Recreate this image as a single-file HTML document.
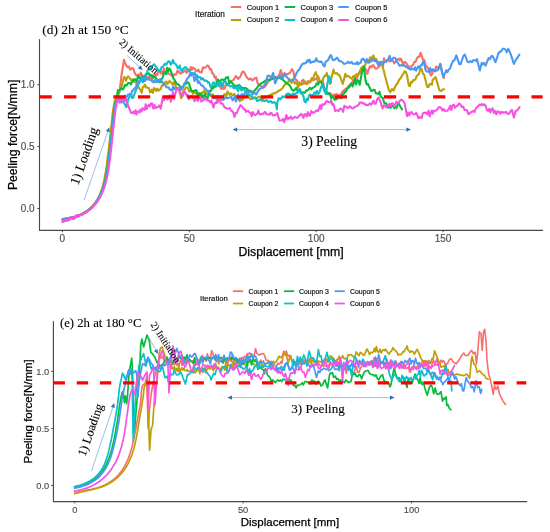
<!DOCTYPE html>
<html><head><meta charset="utf-8"><title>Peeling force</title>
<style>html,body{margin:0;padding:0;background:#fff;}svg{display:block;}</style>
</head><body>
<svg width="550" height="532" viewBox="0 0 550 532">
<rect width="550" height="532" fill="#fff"/>
<text x="42.3" y="33.7" font-family="'Liberation Serif', 'Times New Roman', serif" font-size="13.4" fill="#000" stroke="#000" stroke-width="0.1">(d) 2h at 150 °C</text>
<text x="195.1" y="16.9" font-family="'Liberation Sans', Arial, sans-serif" font-size="8.25" fill="#111" stroke="#111" stroke-width="0.18">Iteration</text>
<line x1="230.8" y1="7.0" x2="241.3" y2="7.0" stroke="#F86E69" stroke-width="2.0"/>
<text x="246.7" y="10.0" font-family="'Liberation Sans', Arial, sans-serif" font-size="7.50" fill="#111" stroke="#111" stroke-width="0.18">Coupon 1</text>
<line x1="230.8" y1="20.0" x2="241.3" y2="20.0" stroke="#BDA008" stroke-width="2.0"/>
<text x="246.7" y="22.4" font-family="'Liberation Sans', Arial, sans-serif" font-size="7.50" fill="#111" stroke="#111" stroke-width="0.18">Coupon 2</text>
<line x1="284.7" y1="7.0" x2="295.2" y2="7.0" stroke="#06BC3A" stroke-width="2.0"/>
<text x="300.6" y="10.0" font-family="'Liberation Sans', Arial, sans-serif" font-size="7.50" fill="#111" stroke="#111" stroke-width="0.18">Coupon 3</text>
<line x1="284.7" y1="20.0" x2="295.2" y2="20.0" stroke="#0CBFC8" stroke-width="2.0"/>
<text x="300.6" y="22.4" font-family="'Liberation Sans', Arial, sans-serif" font-size="7.50" fill="#111" stroke="#111" stroke-width="0.18">Coupon 4</text>
<line x1="338.3" y1="7.0" x2="348.8" y2="7.0" stroke="#4A98F6" stroke-width="2.0"/>
<text x="355.0" y="10.0" font-family="'Liberation Sans', Arial, sans-serif" font-size="7.50" fill="#111" stroke="#111" stroke-width="0.18">Coupon 5</text>
<line x1="338.3" y1="20.0" x2="348.8" y2="20.0" stroke="#F752E2" stroke-width="2.0"/>
<text x="355.0" y="22.4" font-family="'Liberation Sans', Arial, sans-serif" font-size="7.50" fill="#111" stroke="#111" stroke-width="0.18">Coupon 6</text>
<polyline points="39.5,39.5 39.5,230.3 542.6,230.3" fill="none" stroke="#484848" stroke-width="1.15" stroke-linejoin="round" stroke-linecap="round"/>
<line x1="37.3" y1="208.5" x2="39.5" y2="208.5" stroke="#484848" stroke-width="1"/>
<text x="34.6" y="212.1" text-anchor="end" font-family="'Liberation Sans', Arial, sans-serif" font-size="10.0" fill="#4D4D4D" stroke="#4D4D4D" stroke-width="0.15">0.0</text>
<line x1="37.3" y1="146.6" x2="39.5" y2="146.6" stroke="#484848" stroke-width="1"/>
<text x="34.6" y="150.2" text-anchor="end" font-family="'Liberation Sans', Arial, sans-serif" font-size="10.0" fill="#4D4D4D" stroke="#4D4D4D" stroke-width="0.15">0.5</text>
<line x1="37.3" y1="84.7" x2="39.5" y2="84.7" stroke="#484848" stroke-width="1"/>
<text x="34.6" y="88.3" text-anchor="end" font-family="'Liberation Sans', Arial, sans-serif" font-size="10.0" fill="#4D4D4D" stroke="#4D4D4D" stroke-width="0.15">1.0</text>
<line x1="62.4" y1="230.3" x2="62.4" y2="232.3" stroke="#484848" stroke-width="1"/>
<text x="62.4" y="242.0" text-anchor="middle" font-family="'Liberation Sans', Arial, sans-serif" font-size="10.0" fill="#4D4D4D" stroke="#4D4D4D" stroke-width="0.15">0</text>
<line x1="189.3" y1="230.3" x2="189.3" y2="232.3" stroke="#484848" stroke-width="1"/>
<text x="189.3" y="242.0" text-anchor="middle" font-family="'Liberation Sans', Arial, sans-serif" font-size="10.0" fill="#4D4D4D" stroke="#4D4D4D" stroke-width="0.15">50</text>
<line x1="316.2" y1="230.3" x2="316.2" y2="232.3" stroke="#484848" stroke-width="1"/>
<text x="316.2" y="242.0" text-anchor="middle" font-family="'Liberation Sans', Arial, sans-serif" font-size="10.0" fill="#4D4D4D" stroke="#4D4D4D" stroke-width="0.15">100</text>
<line x1="443.1" y1="230.3" x2="443.1" y2="232.3" stroke="#484848" stroke-width="1"/>
<text x="443.1" y="242.0" text-anchor="middle" font-family="'Liberation Sans', Arial, sans-serif" font-size="10.0" fill="#4D4D4D" stroke="#4D4D4D" stroke-width="0.15">150</text>
<text x="291" y="255.7" text-anchor="middle" font-family="'Liberation Sans', Arial, sans-serif" font-size="12.3" fill="#000" stroke="#000" stroke-width="0.25">Displacement [mm]</text>
<text transform="translate(16.9,134.9) rotate(-90)" text-anchor="middle" font-family="'Liberation Sans', Arial, sans-serif" font-size="12.2" fill="#000" stroke="#000" stroke-width="0.25">Peeling force[N/mm]</text>
<polyline points="62.7,219.1 64.1,218.9 65.6,218.7 67.2,218.5 68.7,218.3 70.3,217.9 72.0,217.6 73.6,217.2 75.2,216.7 76.8,216.2 78.4,215.6 79.9,215.0 81.4,214.3 82.9,213.5 84.3,212.7 85.7,211.9 87.1,211.0 88.4,210.0 89.6,209.0 90.8,207.9 92.0,206.8 93.0,205.7 94.1,204.5 95.1,203.2 96.0,202.0 96.9,200.6 97.7,199.3 98.5,197.9 99.2,196.5 99.9,195.1 100.6,193.6 101.2,192.1 101.8,190.6 102.3,189.1 102.8,187.5 103.3,185.9 103.7,184.4 104.1,182.8 104.5,181.2 104.8,179.5 105.2,177.9 105.5,176.3 105.8,174.7 106.1,173.1 106.3,171.4 106.6,169.8 106.8,168.2 107.1,166.5 107.3,164.9 107.5,163.3 107.7,161.7 107.9,160.1 108.1,158.5 108.3,156.9 108.5,155.3 108.7,153.6 108.9,152.1 109.1,150.5 109.3,148.9 109.5,147.3 109.7,145.7 109.9,144.1 110.0,142.5 110.2,140.9 110.4,139.3 110.6,137.7 110.8,136.1 110.9,134.5 111.1,132.9 111.3,131.3 111.5,129.7 111.6,128.1 111.8,126.4 112.0,124.8 112.1,123.2 112.3,121.5 112.5,119.9 112.7,118.2 112.8,116.6 113.0,115.0 113.2,113.3 113.4,111.7 113.7,110.0 113.9,108.4 114.2,106.8 114.4,105.2 114.8,103.7 115.1,102.1 115.5,100.6 116.0,99.1 119.5,92.0 121.5,75.0 124.0,59.8 125.0,63.0 126.0,65.1 127.0,66.5 128.0,67.4 129.0,66.4 130.0,69.5 131.0,69.4 132.0,68.0 133.3,68.5 134.6,72.6 136.4,75.7 138.2,74.5 139.5,75.8 140.7,72.6 142.0,74.8 143.0,77.6 144.0,75.8 145.0,79.6 146.0,77.0 147.0,76.9 148.0,78.8 149.0,76.8 150.0,78.0 151.0,76.9 152.0,79.2 153.0,75.5 154.0,76.7 155.0,75.0 156.1,74.4 157.3,75.0 158.4,70.2 159.5,71.2 160.7,73.3 161.8,71.3 162.9,74.6 163.9,68.2 164.9,73.1 166.0,73.0 167.2,73.6 168.4,73.2 169.5,74.4 170.7,74.5 171.9,75.5 173.0,76.8 174.2,74.3 175.3,74.6 176.4,74.0 177.6,70.4 178.7,71.3 179.8,73.3 180.9,73.6 182.0,72.1 183.1,72.1 184.3,71.2 185.4,70.0 186.5,72.9 187.7,71.5 188.8,71.3 189.8,70.3 190.8,67.0 191.9,69.8 192.9,67.5 193.9,68.7 195.0,68.9 196.2,71.0 197.3,71.3 198.4,69.7 199.5,72.1 200.6,72.1 201.7,72.4 202.9,67.4 204.0,67.9 205.1,67.6 206.3,66.8 207.4,65.4 208.7,66.2 210.0,69.6 211.1,69.2 212.3,73.4 213.4,73.8 214.5,77.4 215.7,76.5 216.8,82.3 217.9,84.0 219.0,83.4 220.1,85.6 221.2,88.9 222.4,84.5 223.5,89.0 224.6,88.7 225.8,84.1 226.9,85.6 228.0,83.9 229.2,83.5 230.3,82.3 231.4,80.7 232.6,80.5 233.7,79.7 234.8,77.7 235.9,76.0 237.0,77.2 238.1,78.9 239.3,77.8 240.4,76.3 241.7,73.1 243.0,71.3 244.0,72.1 245.0,73.8 246.9,77.6 248.8,79.4 250.6,78.5 252.5,80.4 254.4,78.5 256.3,77.6 257.7,83.2 259.1,85.1 261.0,86.0 262.9,87.9 264.7,87.0 266.6,84.1 268.5,81.3 270.4,78.5 272.3,76.6 274.1,76.6 276.0,77.6 277.9,76.6 279.8,73.8 280.7,70.0 282.1,74.7 283.3,75.8 284.5,72.9 286.4,74.7 288.2,73.8 290.1,72.9 292.0,69.1 293.4,71.0 294.6,78.9 295.9,79.6 297.1,80.6 298.8,85.6 299.9,84.2 301.1,83.3 302.2,80.6 303.3,79.8 304.5,82.2 305.6,84.0 306.7,83.7 307.8,81.0 308.9,82.3 310.0,82.1 311.2,80.5 312.3,79.7 313.4,80.2 314.6,79.5 315.7,78.9 316.8,77.7 318.0,81.7 319.1,82.3 320.2,81.7 321.4,82.1 322.5,80.0 325.0,90.7 326.2,92.6 327.3,92.0 328.5,94.0 329.6,94.5 330.7,93.3 331.8,95.8 332.9,95.7 334.1,94.5 335.2,95.8 336.3,93.9 337.5,95.2 338.6,94.9 339.7,95.4 340.9,94.8 342.0,92.4 343.1,90.9 344.3,90.0 345.4,89.0 346.5,88.3 347.6,87.6 348.7,85.6 349.8,84.8 351.0,83.7 352.1,82.3 353.2,80.6 354.4,79.7 355.5,78.9 356.6,80.4 357.8,75.6 358.9,73.8 360.0,71.2 361.2,73.1 362.3,70.4 363.4,67.9 364.5,70.2 365.6,68.7 367.3,73.8 369.0,68.7 370.1,66.3 371.3,67.3 372.4,65.4 373.5,65.3 374.7,67.6 375.8,68.7 377.1,68.4 378.4,67.0 379.5,66.4 380.7,61.8 381.8,63.7 382.9,66.0 384.0,58.2 385.1,62.0 386.2,60.9 387.4,60.2 388.5,60.3 389.6,61.5 390.8,60.2 391.9,61.1 393.0,60.8 394.2,63.4 395.3,62.0 396.4,60.2 397.6,59.9 398.7,58.6 399.8,60.5 400.9,58.7 402.0,61.1 403.1,65.1 404.3,62.0 405.4,62.0 406.5,63.5 407.7,65.4 408.8,67.0 409.9,66.6 411.1,66.9 412.2,65.4 413.3,64.4 414.5,61.8 415.6,62.0 416.9,58.4 418.1,56.9 419.4,56.8 420.6,52.7 423.2,60.3 424.4,60.0 425.7,65.4 426.9,66.9 428.2,68.7 430.8,75.5 432.1,74.3 433.3,69.6 435.0,71.3 436.2,66.6 437.5,67.6 438.9,67.6 440.3,63.9 442.2,73.3 444.1,78.0" fill="none" stroke="#F86E69" stroke-width="2.1" stroke-linejoin="round" stroke-linecap="round"/>
<polyline points="62.7,219.0 64.1,218.8 65.6,218.7 67.1,218.4 68.7,218.2 70.3,217.9 71.9,217.5 73.6,217.1 75.2,216.6 76.8,216.1 78.3,215.5 79.9,214.9 81.4,214.2 82.9,213.4 84.3,212.6 85.7,211.8 87.0,210.9 88.3,209.9 89.5,208.9 90.7,207.8 91.8,206.7 92.9,205.6 93.9,204.4 94.9,203.1 95.8,201.8 96.7,200.5 97.5,199.2 98.3,197.8 99.0,196.4 99.7,194.9 100.3,193.5 100.9,192.0 101.4,190.5 102.0,188.9 102.4,187.4 102.9,185.8 103.3,184.2 103.7,182.6 104.1,181.0 104.4,179.4 104.7,177.8 105.0,176.2 105.3,174.5 105.6,172.9 105.9,171.3 106.1,169.7 106.3,168.0 106.6,166.4 106.8,164.8 107.0,163.2 107.2,161.6 107.4,159.9 107.6,158.3 107.8,156.7 108.0,155.1 108.2,153.5 108.4,151.9 108.6,150.4 108.8,148.8 109.0,147.2 109.2,145.6 109.4,144.0 109.5,142.4 109.7,140.8 109.9,139.2 110.1,137.6 110.3,136.1 110.5,134.5 110.6,132.8 110.8,131.2 111.0,129.6 111.2,128.0 111.3,126.4 111.5,124.8 111.7,123.1 111.8,121.5 112.0,119.9 112.2,118.2 112.3,116.6 112.5,114.9 112.7,113.3 112.9,111.6 113.1,110.0 113.4,108.4 113.6,106.8 113.9,105.2 114.3,103.6 114.6,102.1 115.0,100.6 115.5,99.1 119.0,92.0 120.0,89.7 121.0,89.0 124.0,77.0 125.0,77.2 126.0,80.8 127.0,78.0 128.0,76.3 129.0,77.2 130.0,78.6 131.0,80.0 132.0,79.4 133.0,80.0 134.0,81.8 135.0,80.6 136.0,82.3 137.0,86.6 138.0,86.0 139.3,88.2 140.6,90.6 141.7,92.8 142.8,87.0 143.9,86.7 145.0,84.6 146.0,87.5 147.0,87.4 148.0,88.0 149.0,88.1 150.0,92.4 151.0,92.0 152.0,89.7 153.0,92.9 154.0,88.0 155.0,89.0 156.1,90.8 157.3,88.6 158.4,90.7 159.5,90.1 160.7,88.8 161.8,85.6 162.9,85.8 163.9,82.6 165.0,83.1 166.2,81.5 167.3,84.1 168.5,82.3 169.6,81.0 170.8,82.4 171.9,83.1 173.0,84.9 174.2,82.0 175.3,84.8 176.4,88.3 177.6,88.3 178.7,89.0 181.2,98.3 183.7,90.7 184.8,89.3 186.0,87.3 187.1,87.3 188.2,88.6 189.4,91.7 190.5,90.7 191.6,90.7 192.8,93.9 193.9,92.4 195.0,92.2 196.2,94.0 197.3,94.0 198.4,93.8 199.5,93.6 200.6,93.2 201.7,92.8 202.9,92.6 204.0,90.7 205.1,93.1 206.3,92.2 207.4,94.0 208.5,93.6 209.7,94.7 210.8,95.8 211.9,95.1 212.9,94.2 213.9,98.1 215.0,97.5 216.0,96.2 217.0,101.0 218.1,95.9 219.1,97.0 220.1,98.3 221.1,98.5 222.1,96.2 223.2,97.1 224.2,94.5 225.2,94.0 226.3,96.6 227.5,91.4 228.6,93.2 229.7,95.0 230.9,93.3 232.0,94.9 233.1,95.2 234.3,93.8 235.4,96.6 236.5,99.3 237.6,95.3 238.7,99.2 239.8,101.2 241.0,99.7 242.1,100.0 243.6,98.3 245.0,95.4 246.9,96.4 248.8,97.3 250.6,99.2 252.5,98.2 254.4,97.3 256.3,98.2 258.2,97.3 260.0,96.4 261.9,101.1 263.8,98.2 265.7,97.3 267.6,96.4 269.4,95.4 271.3,94.5 273.2,93.5 275.1,93.1 277.0,92.1 278.8,90.7 280.7,89.8 282.6,87.9 284.5,85.1 286.4,83.2 288.2,82.3 289.3,79.0 290.4,80.6 291.5,83.0 292.6,79.3 293.7,81.4 294.8,83.6 296.0,82.1 297.1,84.0 298.2,87.5 299.4,82.5 300.5,84.8 301.6,84.8 302.8,83.9 303.9,83.1 305.0,81.3 306.2,83.9 307.3,84.0 308.4,82.5 309.5,82.3 310.6,80.6 311.7,78.2 312.9,80.0 314.0,75.5 315.7,72.1 316.9,75.8 318.2,76.3 319.5,80.4 320.8,82.3 322.5,80.6 323.4,78.0 324.5,75.9 325.7,75.8 326.8,73.0 328.5,80.6 330.1,84.0 333.5,69.6 334.6,73.3 335.8,73.4 336.9,73.0 338.0,74.8 339.2,74.9 340.3,77.2 342.8,84.0 345.4,73.8 346.5,76.7 347.6,75.8 348.7,76.3 349.8,77.2 351.0,77.9 352.1,78.9 353.2,76.2 354.4,75.8 355.5,76.3 356.6,74.0 357.8,75.1 358.9,73.0 360.0,71.0 361.2,68.0 362.3,67.0 363.4,66.0 364.5,66.8 365.6,63.7 366.7,60.1 367.9,61.9 369.0,60.3 370.1,57.3 371.3,61.6 372.4,56.9 373.5,55.5 374.7,60.9 375.8,58.6 377.1,60.7 378.4,62.8 379.5,62.2 380.7,64.7 381.8,63.7 383.5,69.6 385.1,76.3 386.8,82.3 388.5,89.0 390.2,92.4 391.9,89.0 393.6,90.7 395.3,86.5 396.4,84.4 397.6,83.4 398.7,80.6 399.8,78.9 400.9,78.1 402.0,75.5 403.3,73.9 404.6,71.3 405.9,72.2 407.1,75.5 408.8,85.6 409.9,86.1 411.1,81.7 412.2,82.3 413.3,80.0 414.5,80.0 415.6,78.9 416.7,76.0 417.8,75.1 418.9,73.8 420.2,69.9 421.5,68.7 422.8,73.4 424.0,74.6 427.4,87.3 428.5,86.8 429.7,84.0 430.8,84.0 431.8,84.7 432.8,79.6 433.8,78.9 435.6,77.0 437.5,83.6 439.4,90.2 441.3,91.1 442.7,89.5 444.1,89.2" fill="none" stroke="#BDA008" stroke-width="2.1" stroke-linejoin="round" stroke-linecap="round"/>
<polyline points="62.7,219.2 64.1,219.0 65.6,218.8 67.2,218.6 68.8,218.3 70.4,218.0 72.0,217.7 73.6,217.3 75.2,216.8 76.8,216.3 78.4,215.7 79.9,215.1 81.5,214.4 82.9,213.6 84.4,212.8 85.8,212.0 87.1,211.1 88.4,210.1 89.7,209.1 90.9,208.0 92.1,206.9 93.2,205.8 94.2,204.6 95.2,203.4 96.2,202.1 97.1,200.8 97.9,199.4 98.7,198.0 99.5,196.6 100.2,195.2 100.9,193.7 101.5,192.2 102.1,190.7 102.6,189.2 103.1,187.6 103.6,186.1 104.1,184.5 104.5,182.9 104.9,181.3 105.3,179.7 105.6,178.1 105.9,176.4 106.2,174.8 106.5,173.2 106.8,171.6 107.1,169.9 107.3,168.3 107.6,166.7 107.8,165.1 108.0,163.4 108.2,161.8 108.4,160.2 108.6,158.6 108.8,157.0 109.0,155.4 109.2,153.8 109.4,152.2 109.6,150.6 109.8,149.0 110.0,147.4 110.2,145.8 110.3,144.2 110.5,142.6 110.7,141.0 110.9,139.4 111.1,137.8 111.2,136.2 111.4,134.6 111.6,133.0 111.8,131.3 111.9,129.7 112.1,128.1 112.3,126.5 112.5,124.8 112.6,123.2 112.8,121.6 113.0,119.9 113.2,118.3 113.3,116.6 113.5,115.0 113.7,113.3 113.9,111.7 114.2,110.1 114.4,108.4 114.7,106.8 115.0,105.2 115.3,103.7 115.6,102.1 116.0,100.6 116.5,99.1 118.0,90.0 119.0,90.7 120.0,90.1 121.0,88.5 122.0,88.8 123.0,89.5 124.0,87.5 125.0,84.9 126.0,85.7 127.0,85.0 128.0,83.1 129.0,83.0 130.0,83.0 131.0,84.3 132.0,81.4 133.0,81.0 134.0,79.4 135.0,79.3 136.0,79.5 137.0,80.9 138.0,76.2 139.0,78.0 140.0,77.7 141.0,77.6 142.0,76.5 143.0,77.9 144.0,77.4 145.0,76.0 146.0,74.1 147.0,73.4 148.0,74.0 149.0,73.3 150.0,75.7 151.0,75.0 152.2,75.4 153.3,77.7 154.4,77.0 155.6,77.0 156.8,80.8 158.0,82.0 159.0,80.2 160.0,82.3 161.0,79.5 162.0,78.5 163.0,76.7 164.0,72.9 165.0,72.1 166.0,74.0 167.1,67.8 168.1,71.8 169.2,68.4 170.2,69.6 171.9,73.8 173.2,78.0 174.4,79.7 175.7,82.0 177.0,84.0 178.2,84.3 179.5,85.6 180.8,87.2 182.0,87.3 183.1,87.7 184.3,83.5 185.4,84.0 186.5,83.3 187.7,82.2 188.8,83.1 191.3,90.7 192.6,91.1 193.9,91.5 195.0,90.4 196.2,90.1 197.3,92.4 198.4,95.8 199.5,93.3 200.6,97.5 201.7,94.6 202.9,97.9 204.0,95.8 205.1,94.1 206.3,99.1 207.4,98.3 210.0,90.7 211.1,90.7 212.3,87.2 213.4,88.2 214.5,85.5 215.7,86.7 216.8,83.1 217.9,79.3 219.0,81.4 220.1,81.4 221.2,79.8 222.4,79.5 223.5,79.7 224.6,81.1 225.8,77.5 226.9,78.0 228.0,76.9 229.2,83.1 230.3,81.4 231.4,82.2 232.6,83.5 233.7,84.8 234.8,87.6 235.9,85.5 237.0,85.6 238.1,86.8 239.3,84.9 240.4,86.5 241.5,87.4 242.7,89.4 243.8,87.9 244.8,88.3 245.9,88.1 246.9,88.8 248.8,90.7 250.6,90.7 252.5,92.6 254.4,90.7 256.3,88.8 258.2,86.0 260.0,84.1 261.9,83.2 263.8,81.8 265.7,80.4 267.6,79.4 269.4,80.4 271.3,79.4 273.2,78.5 275.1,77.6 277.0,78.0 278.8,77.6 280.7,78.5 282.6,79.4 284.5,81.3 286.4,83.2 288.2,84.1 290.1,86.0 292.0,89.8 293.9,90.7 295.4,89.0 296.5,87.8 297.7,91.5 298.8,90.7 299.9,91.0 301.1,93.4 302.2,92.4 303.3,92.5 304.5,92.9 305.6,91.5 306.7,90.3 307.8,90.5 308.9,89.0 310.0,87.8 311.2,89.3 312.3,88.2 313.4,87.6 314.6,86.9 315.7,85.6 316.8,83.3 318.0,84.5 319.1,82.3 320.2,82.2 321.4,82.3 322.5,84.0 324.0,88.0 325.4,90.7 326.8,92.4 327.9,93.9 329.0,93.1 330.1,94.9 331.2,98.4 332.4,96.1 333.5,97.5 334.6,99.8 335.8,98.9 336.9,99.2 338.0,96.3 339.2,97.0 340.3,98.3 341.4,98.1 342.6,94.3 343.7,94.0 344.8,92.0 345.9,91.5 347.0,89.0 348.1,88.0 349.3,87.0 350.4,85.6 351.5,83.3 352.7,86.4 353.8,83.1 354.9,78.1 356.1,84.5 357.2,80.6 358.4,80.7 359.7,84.8 362.3,70.4 363.9,67.0 365.6,80.6 366.7,84.5 367.9,83.8 369.0,86.5 370.1,88.6 371.3,91.0 372.4,90.7 373.5,89.9 374.7,90.0 375.8,93.2 377.1,93.6 378.4,94.0 379.5,91.8 380.7,96.7 381.8,97.5 382.9,98.1 384.0,102.6 385.1,103.4 386.2,103.4 387.4,107.2 388.5,107.6 389.6,104.4 390.8,107.8 391.9,105.9 393.0,105.3 394.2,108.2 395.3,106.8 396.4,108.2 397.6,104.5 398.7,103.4 400.4,106.8 402.0,109.3" fill="none" stroke="#06BC3A" stroke-width="2.1" stroke-linejoin="round" stroke-linecap="round"/>
<polyline points="62.7,219.3 64.1,219.1 65.6,218.9 67.2,218.7 68.8,218.4 70.4,218.1 72.0,217.8 73.6,217.3 75.2,216.9 76.8,216.4 78.4,215.8 80.0,215.1 81.5,214.5 83.0,213.7 84.4,212.9 85.8,212.1 87.2,211.2 88.5,210.2 89.8,209.2 91.0,208.1 92.2,207.0 93.3,205.9 94.3,204.7 95.3,203.5 96.3,202.2 97.2,200.9 98.1,199.5 98.9,198.1 99.7,196.7 100.4,195.3 101.1,193.8 101.7,192.3 102.3,190.8 102.9,189.3 103.4,187.7 103.9,186.2 104.4,184.6 104.8,183.0 105.2,181.4 105.6,179.8 106.0,178.2 106.3,176.6 106.6,174.9 106.9,173.3 107.2,171.7 107.5,170.0 107.7,168.4 108.0,166.8 108.2,165.2 108.4,163.5 108.6,161.9 108.8,160.3 109.0,158.7 109.2,157.1 109.4,155.5 109.6,153.8 109.8,152.2 110.0,150.6 110.2,149.0 110.4,147.4 110.6,145.8 110.7,144.2 110.9,142.6 111.1,141.0 111.3,139.4 111.5,137.8 111.6,136.2 111.8,134.6 112.0,133.0 112.1,131.4 112.3,129.8 112.5,128.1 112.7,126.5 112.8,124.9 113.0,123.2 113.2,121.6 113.4,120.0 113.5,118.3 113.7,116.7 113.9,115.0 114.1,113.4 114.3,111.7 114.6,110.1 114.8,108.5 115.1,106.9 115.4,105.3 115.7,103.7 116.0,102.1 116.4,100.6 116.9,99.1 121.0,99.6 122.0,102.3 123.0,101.1 124.0,103.0 125.2,104.9 126.3,107.0 128.0,100.0 130.0,95.0 131.0,93.8 132.0,98.0 133.0,98.0 136.0,90.0 137.0,87.8 138.0,84.7 139.0,83.0 140.0,81.8 141.0,78.9 142.0,80.0 143.0,82.4 144.0,78.4 145.0,78.6 148.0,69.5 149.0,68.4 150.0,68.8 151.0,67.0 152.0,66.2 153.0,65.3 154.0,64.3 155.0,65.2 156.0,67.0 157.0,68.0 158.0,69.6 159.0,71.0 160.0,71.0 161.8,67.0 162.9,66.7 163.9,65.0 165.0,63.7 166.2,64.8 167.3,62.7 168.4,61.3 169.6,61.8 170.8,64.7 171.9,62.8 173.0,60.0 174.2,63.5 175.3,63.7 176.4,65.1 177.6,67.9 178.7,67.9 179.8,65.5 180.9,69.9 182.0,71.3 183.1,68.8 184.3,67.8 185.4,67.0 186.5,68.1 187.7,69.8 188.8,69.6 189.9,71.2 191.1,75.7 192.2,73.0 193.3,74.6 194.5,72.4 195.6,75.5 196.7,74.8 197.9,76.7 199.0,77.2 200.1,77.0 201.2,79.5 202.3,78.0 203.4,79.1 204.6,80.8 205.7,80.6 206.8,80.7 207.9,82.6 209.0,82.3 210.8,87.3 212.1,85.0 213.4,82.3 214.5,83.0 215.7,85.5 216.8,85.6 217.9,82.4 219.0,86.3 220.1,83.1 221.2,82.8 222.4,86.7 223.5,82.3 224.6,81.1 225.8,81.9 226.9,84.0 228.0,84.5 229.2,85.5 230.3,86.5 231.4,86.0 232.6,86.3 233.7,88.2 234.8,88.4 235.9,86.7 237.0,89.0 238.1,91.1 239.3,85.3 240.4,88.2 241.5,90.5 242.7,89.3 243.8,89.0 245.0,90.7 246.3,92.3 247.5,95.0 248.8,94.5 250.2,95.3 251.6,96.4 253.0,98.6 254.4,98.2 255.8,97.9 257.2,101.1 259.1,100.1 261.0,99.2 262.9,100.1 264.7,101.1 266.6,100.1 268.5,102.0 270.4,101.1 272.3,102.9 274.1,102.0 276.0,103.9 276.8,109.3 277.4,102.0 278.8,98.2 280.7,99.2 282.6,96.4 284.5,97.3 286.4,94.5 288.2,93.5 290.1,94.5 292.0,94.9 293.1,93.5 294.3,94.0 295.4,94.0 296.5,93.0 297.7,92.5 298.8,89.9 299.9,89.0 301.1,92.6 302.2,94.0 303.3,95.7 304.5,101.2 305.6,102.5 306.7,98.8 307.8,100.2 308.9,95.8 310.0,94.4 311.2,95.3 312.3,95.8 313.4,94.3 314.6,92.4 315.7,94.0 316.8,90.8 318.0,93.8 319.1,93.2 320.5,89.0 322.5,84.0 324.2,90.7 325.9,94.0 327.6,82.3 329.3,76.3 331.0,82.3" fill="none" stroke="#0CBFC8" stroke-width="2.1" stroke-linejoin="round" stroke-linecap="round"/>
<polyline points="62.7,219.4 64.1,219.2 65.6,219.0 67.2,218.8 68.8,218.5 70.4,218.2 72.0,217.8 73.6,217.4 75.2,217.0 76.8,216.4 78.4,215.9 80.0,215.2 81.5,214.5 83.0,213.8 84.5,213.0 85.9,212.2 87.2,211.3 88.5,210.3 89.8,209.3 91.0,208.2 92.2,207.1 93.3,206.0 94.4,204.8 95.4,203.6 96.4,202.3 97.3,201.0 98.2,199.6 99.0,198.2 99.8,196.8 100.6,195.4 101.3,193.9 101.9,192.4 102.5,190.9 103.1,189.4 103.6,187.8 104.1,186.3 104.6,184.7 105.1,183.1 105.5,181.5 105.9,179.9 106.2,178.3 106.6,176.6 106.9,175.0 107.2,173.4 107.5,171.8 107.8,170.1 108.0,168.5 108.3,166.9 108.5,165.2 108.7,163.6 108.9,162.0 109.1,160.4 109.4,158.8 109.6,157.1 109.7,155.5 109.9,153.9 110.1,152.3 110.3,150.7 110.5,149.1 110.7,147.5 110.9,145.9 111.0,144.3 111.2,142.7 111.4,141.1 111.6,139.5 111.7,137.9 111.9,136.3 112.1,134.7 112.3,133.0 112.4,131.4 112.6,129.8 112.8,128.2 113.0,126.5 113.1,124.9 113.3,123.3 113.5,121.6 113.7,120.0 113.8,118.3 114.0,116.7 114.2,115.0 114.4,113.4 114.7,111.7 114.9,110.1 115.1,108.5 115.4,106.9 115.7,105.3 116.0,103.7 116.3,102.1 116.7,100.6 117.2,99.1 123.0,98.0 124.0,100.4 125.0,95.5 126.0,97.6 127.0,96.6 128.0,94.5 129.0,94.3 130.0,94.0 131.0,95.0 132.0,91.0 133.0,90.6 134.2,88.6 135.3,87.9 136.4,86.4 137.6,82.3 138.8,81.9 140.0,80.0 141.2,80.6 142.4,77.7 143.6,78.6 144.8,81.1 146.0,79.0 147.2,79.6 148.4,78.2 149.6,80.0 150.8,80.1 152.0,81.0 153.2,82.4 154.4,80.1 155.6,82.3 156.7,80.9 157.8,79.7 158.9,81.3 160.0,79.3 161.0,79.1 162.0,82.0 163.0,83.3 164.0,84.5 165.0,84.8 166.2,87.0 167.3,87.4 168.5,87.3 169.6,89.2 170.8,90.1 171.9,90.7 173.0,86.9 174.2,89.5 175.3,87.3 176.4,88.6 177.6,88.6 178.7,88.2 179.8,87.6 180.9,90.0 182.0,89.0 183.1,86.2 184.3,85.0 185.4,82.3 186.5,80.1 187.7,77.9 188.8,77.2 189.9,74.0 191.1,73.2 192.2,73.0 193.3,74.9 194.5,81.0 195.6,78.9 196.7,75.7 197.9,82.9 199.0,81.4 200.1,83.4 201.2,85.3 202.3,85.6 203.4,86.6 204.6,88.4 205.7,89.0 206.8,90.6 207.9,90.7 209.0,92.4 210.0,94.0 211.1,95.3 212.3,97.0 213.4,98.3 214.5,98.1 215.7,98.1 216.8,97.5 217.9,97.0 219.0,100.8 220.1,99.2 221.2,99.4 222.4,99.3 223.5,100.0 224.6,97.7 225.8,97.9 226.9,98.3 228.0,97.9 229.2,97.6 230.3,97.5 231.4,97.0 232.6,100.3 233.7,99.2 234.8,96.4 235.9,101.4 237.0,98.3 238.1,94.6 239.3,100.0 240.4,97.5 241.5,94.3 242.7,94.4 243.8,94.9 245.0,92.6 246.9,90.7 248.8,92.6 250.6,91.7 252.5,94.5 254.4,92.6 256.3,94.5 258.2,90.7 260.0,88.8 261.9,87.9 263.8,86.0 265.7,83.2 267.6,75.7 269.4,75.7 271.3,77.6 273.2,72.9 275.1,83.2 277.0,79.4 278.8,76.6 280.7,75.7 282.6,78.5 284.5,73.8 286.4,76.6 288.2,78.5 290.1,80.4 292.0,80.4 293.7,79.7 294.8,77.4 296.0,74.3 297.1,72.1 298.2,70.4 299.4,69.5 300.5,67.0 301.6,65.1 302.8,63.6 303.9,63.7 305.0,63.2 306.2,62.7 307.3,60.3 308.4,61.6 309.5,59.6 310.6,62.8 311.7,62.1 312.9,61.5 314.0,62.0 315.1,61.2 316.3,58.3 317.4,61.1 318.7,61.4 320.0,62.0 321.1,61.4 322.3,62.9 323.4,65.4 324.5,66.6 325.7,61.6 326.8,61.1 327.9,60.2 328.9,58.7 329.9,56.0 331.0,55.2 332.2,58.8 333.5,60.3 334.6,59.8 335.8,58.9 336.9,57.7 338.0,58.8 339.2,61.0 340.3,61.1 341.4,61.7 342.6,62.4 343.7,63.7 344.8,63.7 345.9,63.4 347.0,62.8 348.1,61.7 349.3,63.2 350.4,62.8 351.5,61.9 352.7,63.7 353.8,63.7 354.9,63.6 356.1,63.9 357.2,62.0 358.3,64.3 359.5,63.0 360.6,62.8 361.9,59.2 363.1,58.6 364.4,60.4 365.6,62.0 366.7,59.0 367.9,62.8 369.0,62.8 370.1,60.2 371.3,61.2 372.4,59.4 373.5,59.7 374.7,61.3 375.8,60.3 377.1,62.6 378.4,65.4 379.5,62.5 380.7,63.4 381.8,62.0 382.9,64.9 384.0,61.7 385.1,62.0 386.2,61.9 387.4,59.8 388.5,58.6 389.6,55.8 390.8,60.2 391.9,59.4 393.1,58.2 394.4,57.7 395.7,58.6 397.0,62.0 398.1,63.1 399.3,65.6 400.4,65.4 401.5,65.1 402.6,65.8 403.7,65.4 404.8,65.5 406.0,67.0 407.1,67.0 408.2,68.4 409.4,68.9 410.5,69.6 411.6,68.4 412.8,69.2 413.9,69.6 415.0,67.3 416.2,70.7 417.3,67.9 418.4,66.3 419.5,68.4 420.6,65.4 421.7,65.4 422.9,62.0 424.0,62.8 425.7,70.4 426.8,71.5 428.0,71.7 429.1,71.3 430.2,68.1 431.4,71.8 432.5,69.6 433.8,70.1 435.0,71.3 436.2,70.5 437.5,70.4 438.9,68.4 440.3,63.9 443.2,77.0 445.0,73.3 446.3,70.2 447.5,72.1 448.8,69.5 450.2,68.2 451.6,63.9 453.1,61.0 454.5,60.1 456.3,55.4 459.2,63.9 460.6,64.3 462.0,60.1 463.4,55.9 464.8,54.5 467.6,62.0 469.0,62.2 470.4,61.0 471.9,62.1 473.3,60.1 474.5,60.2 475.8,60.9 477.0,59.2 479.8,70.4 481.7,62.9 482.8,64.4 483.8,62.9 485.6,65.7 488.5,58.2 489.9,59.2 491.3,56.3 492.7,56.0 494.1,59.2 495.5,62.2 496.9,58.2 498.3,53.7 499.7,51.6 501.1,51.6 502.6,48.8 504.0,48.7 505.4,49.7 506.8,52.1 508.2,48.8 510.1,52.6 512.0,58.2 513.9,63.9 515.7,60.1 517.6,57.3 519.5,54.5" fill="none" stroke="#4A98F6" stroke-width="2.1" stroke-linejoin="round" stroke-linecap="round"/>
<polyline points="62.7,221.5 64.1,220.7 65.7,220.3 67.2,220.3 68.8,219.7 70.4,217.7 72.0,218.1 73.7,218.4 75.3,217.2 76.9,215.6 78.5,216.0 80.0,215.3 81.6,214.7 83.0,214.4 84.5,213.4 85.9,212.4 87.3,211.5 88.6,210.7 89.9,209.7 91.2,208.6 92.4,207.5 93.5,206.3 94.6,205.1 95.6,203.9 96.6,202.6 97.6,201.3 98.5,199.9 99.3,198.5 100.1,197.1 100.9,195.6 101.6,194.1 102.3,192.6 102.9,191.1 103.5,189.5 104.0,188.0 104.6,186.4 105.1,184.8 105.5,183.3 106.0,181.7 106.4,180.1 106.7,178.4 107.1,176.8 107.4,175.2 107.7,173.6 108.0,171.9 108.3,170.3 108.6,168.7 108.8,167.0 109.1,165.4 109.3,163.8 109.5,162.2 109.8,160.5 110.0,158.9 110.2,157.3 110.4,155.7 110.5,154.0 110.7,152.4 110.9,150.8 111.1,149.2 111.3,147.6 111.5,146.0 111.6,144.4 111.8,142.8 112.0,141.2 112.1,139.6 112.3,138.0 112.5,136.3 112.7,134.7 112.8,133.1 113.0,131.5 113.2,129.9 113.4,128.2 113.5,126.6 113.7,125.0 113.9,123.3 114.1,121.7 114.2,120.0 114.4,118.4 114.6,116.7 114.8,115.1 115.0,113.4 115.3,111.8 115.5,110.1 115.7,108.5 116.0,106.9 116.3,105.3 116.6,103.7 117.0,102.1 117.3,100.6 117.7,99.1 119.5,102.6 120.5,102.5 121.6,99.3 122.6,99.6 123.8,101.4 125.1,96.6 126.3,101.0 128.6,107.0 129.8,109.6 131.1,113.0 132.3,113.0 133.4,111.5 134.4,113.6 135.5,110.3 136.5,114.5 137.6,111.6 138.6,111.4 139.6,112.4 140.6,109.4 141.6,111.3 142.6,108.1 143.6,109.4 144.7,109.8 145.7,104.4 146.8,108.9 147.8,106.0 148.9,104.6 149.9,106.4 151.0,103.4 152.2,103.6 153.3,108.6 154.4,105.0 155.6,108.0 157.0,107.1 158.4,106.8 159.5,105.3 160.7,108.7 161.8,102.5 162.9,96.7 163.9,100.3 165.0,97.5 166.2,96.8 167.3,99.5 168.5,98.3 169.6,95.3 170.8,101.6 171.9,97.5 173.0,92.2 174.2,99.1 175.3,94.0 176.6,89.2 177.8,88.2 179.1,89.7 180.4,92.4 181.7,95.4 182.9,95.8 184.2,91.2 185.4,92.4 186.5,95.8 187.7,94.7 188.8,99.2 189.9,97.4 191.1,96.0 192.2,96.6 193.3,98.1 194.5,101.1 195.6,100.0 196.7,97.7 197.9,100.9 199.0,97.5 200.1,96.7 201.2,101.5 202.3,100.8 203.4,100.3 204.6,98.7 205.7,98.3 206.8,100.3 207.9,100.0 209.0,100.8 210.2,102.4 211.3,100.4 212.5,104.2 213.4,107.6 215.0,102.5 216.2,103.0 217.3,102.8 218.5,100.0 219.6,97.6 220.7,103.5 221.8,103.4 222.9,104.2 224.1,106.6 225.2,107.6 226.3,108.2 227.5,108.9 228.6,108.4 229.7,108.1 230.9,110.4 232.0,111.0 233.2,112.3 234.5,116.9 235.8,113.1 237.0,112.7 238.1,109.5 239.3,107.6 240.4,105.1 241.5,106.1 242.7,107.2 243.8,109.3 244.9,109.2 246.1,111.8 247.2,111.0 248.3,110.9 249.5,112.6 250.6,112.7 251.7,116.3 252.8,112.1 253.9,114.4 255.0,115.1 256.2,114.3 257.3,113.5 258.4,110.6 259.6,114.5 260.7,114.4 261.8,113.7 263.0,114.2 264.1,112.7 265.2,111.8 266.2,114.1 267.3,114.2 268.4,114.4 269.5,114.8 270.7,112.8 271.8,113.5 272.9,115.4 274.0,115.0 275.1,115.2 276.2,114.4 277.4,113.0 278.5,117.7 279.6,120.6 280.8,120.5 281.9,120.3 283.0,119.0 284.2,122.2 285.3,118.6 286.4,115.0 287.6,119.5 288.7,117.7 289.8,118.3 290.9,116.7 292.0,118.6 293.1,118.5 294.3,117.3 295.4,116.9 296.5,117.8 297.7,117.8 298.8,116.1 299.9,115.4 301.1,113.8 302.2,115.2 303.3,117.8 304.5,114.2 305.6,114.4 306.7,116.5 307.8,112.0 308.9,115.2 310.0,115.6 311.2,111.0 312.3,112.7 313.4,112.4 314.6,112.5 315.7,111.0 316.8,110.5 318.0,111.0 319.1,108.4 320.2,105.3 321.2,109.3 322.3,104.2 323.4,104.2 324.5,104.6 325.7,102.3 326.8,100.8 327.9,101.8 329.0,102.2 330.1,102.5 331.2,100.4 332.4,105.0 333.5,104.2 335.2,111.0 336.3,110.3 337.5,110.6 338.6,111.0 339.7,108.9 340.9,108.5 342.0,109.3 343.1,111.7 344.3,105.8 345.4,106.8 346.5,106.7 347.6,108.2 348.7,107.6 349.8,106.2 351.0,107.2 352.1,108.4 353.2,108.5 354.4,106.8 355.5,106.8 356.6,106.2 357.8,105.5 358.9,104.2 360.0,102.4 361.2,102.7 362.3,102.5 363.4,103.8 364.5,103.6 365.6,105.1 366.7,104.8 367.9,105.4 369.0,104.2 370.1,103.4 371.3,104.7 372.4,102.5 373.5,100.7 374.7,103.8 375.8,103.4 377.1,99.6 378.3,97.5 380.1,100.8 382.6,108.4 383.9,105.3 385.1,105.9 386.2,107.3 387.4,105.3 388.5,105.9 389.6,103.8 390.8,106.0 391.9,103.4 393.0,103.6 394.2,106.7 395.3,104.2 396.4,101.6 397.6,102.9 398.7,102.5 399.8,100.9 400.9,99.7 402.0,100.0 403.3,101.1 404.6,103.4 407.1,116.1 408.2,112.6 409.4,115.4 410.5,112.7 411.6,112.0 412.8,114.1 413.9,114.4 415.0,114.3 416.2,112.9 417.3,115.2 418.4,118.2 419.5,117.0 420.6,117.7 421.7,118.0 422.9,113.3 424.0,112.7 425.1,113.0 426.3,112.5 427.4,114.4 428.5,110.7 429.7,116.4 430.8,112.7 431.8,110.5 432.8,113.7 433.8,110.9 435.0,110.8 436.3,110.4 437.5,109.0 438.8,107.3 440.0,107.1 441.3,108.0 442.5,110.6 443.8,109.1 445.0,110.9 446.3,110.9 447.5,110.6 448.8,109.0 450.1,105.8 451.3,109.9 452.6,105.2 453.8,104.6 455.1,107.8 456.3,106.2 457.8,105.4 459.2,103.3 460.6,104.9 462.0,107.1 463.2,106.7 464.5,109.9 465.7,109.9 467.0,110.3 468.2,113.9 469.5,113.7 470.8,112.3 472.0,111.8 473.3,110.9 474.5,112.0 475.8,108.5 477.0,107.1 478.3,106.2 479.5,104.5 480.8,105.2 482.0,103.9 483.3,105.2 484.5,104.3 485.8,106.2 487.0,110.3 488.3,110.9 489.3,108.8 490.3,112.4 491.3,109.9 492.5,108.4 493.8,112.9 495.0,110.9 496.3,114.3 497.5,111.3 498.8,111.8 500.1,113.8 501.3,111.9 502.6,112.8 503.8,112.2 505.1,112.8 506.3,111.8 507.8,114.0 509.2,113.7 510.6,111.0 512.0,109.9 513.9,117.5 515.7,110.9 517.0,110.4 518.2,109.2 519.5,107.1" fill="none" stroke="#F752E2" stroke-width="2.1" stroke-linejoin="round" stroke-linecap="round"/>
<polyline points="62.7,221.5 64.1,220.7 65.7,220.3 67.2,220.3 68.8,219.7 70.4,217.7 72.0,218.1 73.7,218.4 75.3,217.2 76.9,215.6 78.5,216.0" fill="none" stroke="#F752E2" stroke-width="3.0" stroke-linejoin="round" stroke-linecap="round"/>
<line x1="39.5" y1="96.8" x2="542.6" y2="96.8" stroke="#FF0000" stroke-width="3.3" stroke-dasharray="12.3 12.3"/>
<line x1="84.1" y1="200.0" x2="108.1" y2="130.8" stroke="#7FAEE6" stroke-width="0.8"/>
<polygon points="109.3,127.3 109.8,132.3 105.8,131.0" fill="#2F6EBA"/>
<line x1="126.9" y1="55.4" x2="140.0" y2="67.5" stroke="#7FAEE6" stroke-width="0.8"/>
<polygon points="142.7,70.0 137.9,68.4 140.7,65.3" fill="#2F6EBA"/>
<line x1="236.3" y1="129.6" x2="407.3" y2="129.6" stroke="#7FAEE6" stroke-width="0.8"/>
<polygon points="411.0,129.6 406.4,131.7 406.4,127.5" fill="#2F6EBA"/>
<polygon points="232.6,129.6 237.2,127.5 237.2,131.7" fill="#2F6EBA"/>
<text transform="translate(88.3,157.5) rotate(-70.5)" text-anchor="middle" font-family="'Liberation Serif', 'Times New Roman', serif" font-size="13.6" fill="#000" stroke="#000" stroke-width="0.1">1) Loading</text>
<text transform="translate(136.6,58.8) rotate(41.2)" text-anchor="middle" font-family="'Liberation Serif', 'Times New Roman', serif" font-size="10.15" fill="#000" stroke="#000" stroke-width="0.1">2) Initiation</text>
<text x="301.3" y="145.5" font-family="'Liberation Serif', 'Times New Roman', serif" font-size="13.7" fill="#000" stroke="#000" stroke-width="0.1">3) Peeling</text>
<text x="59.9" y="326.6" font-family="'Liberation Serif', 'Times New Roman', serif" font-size="12.75" fill="#000" stroke="#000" stroke-width="0.1">(e) 2h at 180 °C</text>
<text x="200.0" y="300.5" font-family="'Liberation Sans', Arial, sans-serif" font-size="7.70" fill="#111" stroke="#111" stroke-width="0.18">Iteration</text>
<line x1="232.9" y1="291.2" x2="243.1" y2="291.2" stroke="#F86E69" stroke-width="1.75"/>
<text x="248.5" y="293.8" font-family="'Liberation Sans', Arial, sans-serif" font-size="6.90" fill="#111" stroke="#111" stroke-width="0.18">Coupon 1</text>
<line x1="232.9" y1="303.5" x2="243.1" y2="303.5" stroke="#BDA008" stroke-width="1.75"/>
<text x="248.5" y="306.0" font-family="'Liberation Sans', Arial, sans-serif" font-size="6.90" fill="#111" stroke="#111" stroke-width="0.18">Coupon 2</text>
<line x1="284.0" y1="291.2" x2="294.2" y2="291.2" stroke="#06BC3A" stroke-width="1.75"/>
<text x="299.0" y="293.8" font-family="'Liberation Sans', Arial, sans-serif" font-size="6.90" fill="#111" stroke="#111" stroke-width="0.18">Coupon 3</text>
<line x1="284.0" y1="303.5" x2="294.2" y2="303.5" stroke="#0CBFC8" stroke-width="1.75"/>
<text x="299.0" y="306.0" font-family="'Liberation Sans', Arial, sans-serif" font-size="6.90" fill="#111" stroke="#111" stroke-width="0.18">Coupon 4</text>
<line x1="334.6" y1="291.2" x2="344.8" y2="291.2" stroke="#4A98F6" stroke-width="1.75"/>
<text x="350.0" y="293.8" font-family="'Liberation Sans', Arial, sans-serif" font-size="6.90" fill="#111" stroke="#111" stroke-width="0.18">Coupon 5</text>
<line x1="334.6" y1="303.5" x2="344.8" y2="303.5" stroke="#F752E2" stroke-width="1.75"/>
<text x="350.0" y="306.0" font-family="'Liberation Sans', Arial, sans-serif" font-size="6.90" fill="#111" stroke="#111" stroke-width="0.18">Coupon 6</text>
<polyline points="53.4,321.5 53.4,501.6 526.6,501.6" fill="none" stroke="#484848" stroke-width="1.15" stroke-linejoin="round" stroke-linecap="round"/>
<line x1="51.3" y1="485.4" x2="53.4" y2="485.4" stroke="#484848" stroke-width="1"/>
<text x="49.3" y="488.7" text-anchor="end" font-family="'Liberation Sans', Arial, sans-serif" font-size="9.3" fill="#4D4D4D" stroke="#4D4D4D" stroke-width="0.15">0.0</text>
<line x1="51.3" y1="428.5" x2="53.4" y2="428.5" stroke="#484848" stroke-width="1"/>
<text x="49.3" y="431.8" text-anchor="end" font-family="'Liberation Sans', Arial, sans-serif" font-size="9.3" fill="#4D4D4D" stroke="#4D4D4D" stroke-width="0.15">0.5</text>
<line x1="51.3" y1="371.4" x2="53.4" y2="371.4" stroke="#484848" stroke-width="1"/>
<text x="49.3" y="374.7" text-anchor="end" font-family="'Liberation Sans', Arial, sans-serif" font-size="9.3" fill="#4D4D4D" stroke="#4D4D4D" stroke-width="0.15">1.0</text>
<line x1="74.8" y1="501.5" x2="74.8" y2="503.4" stroke="#484848" stroke-width="1"/>
<text x="74.8" y="512.8" text-anchor="middle" font-family="'Liberation Sans', Arial, sans-serif" font-size="9.3" fill="#4D4D4D" stroke="#4D4D4D" stroke-width="0.15">0</text>
<line x1="243.1" y1="501.5" x2="243.1" y2="503.4" stroke="#484848" stroke-width="1"/>
<text x="243.1" y="512.8" text-anchor="middle" font-family="'Liberation Sans', Arial, sans-serif" font-size="9.3" fill="#4D4D4D" stroke="#4D4D4D" stroke-width="0.15">50</text>
<line x1="411.6" y1="501.5" x2="411.6" y2="503.4" stroke="#484848" stroke-width="1"/>
<text x="411.6" y="512.8" text-anchor="middle" font-family="'Liberation Sans', Arial, sans-serif" font-size="9.3" fill="#4D4D4D" stroke="#4D4D4D" stroke-width="0.15">100</text>
<text x="289.9" y="526.0" text-anchor="middle" font-family="'Liberation Sans', Arial, sans-serif" font-size="11.5" fill="#000" stroke="#000" stroke-width="0.25">Displacement [mm]</text>
<text transform="translate(31.8,411.3) rotate(-90)" text-anchor="middle" font-family="'Liberation Sans', Arial, sans-serif" font-size="11.5" fill="#000" stroke="#000" stroke-width="0.25">Peeling force[N/mm]</text>
<polyline points="74.8,493.0 77.8,492.1 81.1,491.3 84.5,490.6 88.0,489.9 91.5,489.2 95.0,488.4 98.4,487.4 101.7,486.2 105.0,484.9 108.0,483.3 111.0,481.4 113.7,479.4 116.2,477.2 118.6,474.7 120.8,472.1 122.7,469.3 124.5,466.4 126.1,463.4 127.6,460.2 128.9,456.9 130.0,453.6 131.1,450.3 132.0,446.9 132.8,443.4 133.6,440.0 134.3,436.6 135.0,433.1 135.7,429.7 136.3,426.3 136.9,422.9 137.6,419.5 138.2,416.1 138.8,412.7 139.4,409.3 140.0,405.9 140.5,402.5 140.9,399.0 141.2,395.5 141.3,391.9 142.4,385.6 144.5,384.0 146.8,386.0 147.6,410.0 148.1,428.5 149.5,410.0 151.0,395.0 152.6,385.6 155.0,375.0 157.1,367.2 159.4,358.2 160.5,358.3 161.6,355.9 162.7,357.7 163.9,359.5 165.0,361.6 166.1,361.4 167.3,364.5 168.4,363.8 169.6,362.4 170.8,367.5 172.0,365.0 173.0,363.6 174.0,364.8 175.0,364.0 176.0,363.1 177.0,365.5 178.0,363.2 179.0,365.9 180.0,362.0 181.0,359.4 182.0,365.5 183.0,359.3 184.0,362.8 185.0,357.6 186.0,363.4 187.0,356.7 188.0,362.2 189.0,360.3 190.0,360.0 191.0,360.6 192.0,361.1 193.0,360.9 194.0,360.4 195.0,357.7 196.0,360.5 197.0,358.0 198.0,360.2 199.0,361.7 200.0,359.0 201.1,358.6 202.1,355.3 203.2,361.3 204.2,359.1 205.2,358.1 206.3,361.3 207.3,353.8 208.4,357.6 209.5,357.5 210.5,358.3 211.6,350.6 212.6,352.7 213.7,356.3 215.0,359.8 216.3,355.2 217.6,358.0 218.8,364.0 220.0,360.3 221.1,361.1 222.1,362.6 223.2,362.4 224.2,359.3 225.3,361.6 226.3,359.9 227.4,364.8 228.4,361.0 229.5,358.2 230.5,360.9 231.6,360.6 232.6,362.7 233.7,362.2 234.7,359.8 235.8,360.3 237.1,358.8 238.4,362.1 239.7,358.3 240.8,358.8 241.8,357.4 242.9,358.5 243.9,357.4 245.0,356.3 246.1,358.9 247.1,353.6 248.2,354.2 249.2,352.9 250.3,353.7 251.6,355.9 252.9,356.3 254.2,355.1 255.5,348.6 256.8,353.0 258.1,354.6 259.5,355.0 260.8,354.0 262.1,353.7 263.4,353.5 264.7,355.7 266.0,359.9 267.4,360.3 268.7,360.6 270.0,362.9 271.1,366.1 272.1,363.5 273.2,363.9 274.2,365.4 275.3,365.5 276.5,366.3 277.6,363.2 278.8,364.2 280.0,363.6 281.1,361.4 282.1,363.4 283.1,354.7 284.2,353.7 285.2,355.7 286.2,351.1 288.2,356.3 289.5,355.4 290.8,358.3 292.1,361.8 293.4,361.6 294.5,361.3 295.6,362.1 296.7,361.9 297.8,362.5 298.9,359.6 300.0,362.0 301.0,364.3 302.0,361.0 303.0,359.5 304.0,362.9 305.0,359.6 306.0,361.7 307.0,361.0 308.1,361.0 309.1,359.9 310.2,358.0 311.3,362.8 312.4,359.9 313.4,360.9 314.5,360.3 315.8,364.0 317.1,360.7 318.4,362.9 319.4,364.8 320.4,365.7 321.4,366.0 322.4,364.2 323.4,366.1 324.5,365.6 325.5,365.8 326.6,366.7 327.6,366.8 328.6,368.7 329.6,365.5 330.6,363.8 331.6,364.2 332.7,364.5 333.9,361.0 335.0,362.9 336.0,361.6 337.0,365.7 338.0,364.3 339.0,368.7 340.0,366.0 341.0,364.4 342.0,368.6 343.0,365.0 344.0,366.6 345.0,368.0 346.2,373.4 347.4,367.9 348.5,369.7 349.7,369.5 351.0,369.1 352.4,373.4 353.7,373.3 355.0,369.5 356.3,366.8 357.6,372.1 359.0,372.4 360.3,368.2 361.5,366.6 362.6,364.8 363.8,366.6 365.0,365.0 366.0,363.5 367.0,363.1 368.0,364.7 369.0,363.5 370.0,362.0 371.0,361.4 372.0,360.7 373.1,362.7 374.1,357.7 375.1,359.1 376.1,358.3 377.4,361.6 378.5,362.3 379.7,359.6 380.9,363.6 382.0,362.0 383.2,363.4 384.4,362.6 385.5,366.9 386.7,358.7 387.9,362.9 388.9,363.3 390.0,361.6 391.0,360.2 392.0,364.7 393.0,363.3 394.0,365.1 395.1,364.5 396.2,361.4 397.4,366.3 398.5,363.6 399.6,364.8 400.8,361.5 401.9,368.4 403.0,365.9 404.1,364.0 405.3,367.2 406.5,368.4 407.6,368.1 408.6,366.9 409.6,372.0 410.6,371.9 411.6,367.2 412.6,367.4 413.6,365.1 414.6,367.1 415.6,367.3 416.6,366.6 417.7,368.3 418.9,363.0 420.0,363.5 421.1,363.6 422.2,361.9 423.4,363.3 424.5,366.2 425.6,365.1 426.7,364.6 427.9,369.6 429.0,367.1 430.1,366.6 431.2,368.5 432.4,362.9 433.5,360.3 434.6,363.6 435.7,364.4 436.9,364.9 438.0,363.9 439.1,365.1 440.1,363.1 441.1,360.1 442.1,362.1 443.4,360.6 444.5,362.3 445.7,366.1 446.8,363.9 448.1,362.5 449.3,359.7 450.4,358.8 451.6,359.1 452.7,361.4 456.1,363.9 458.6,360.6 461.1,356.3 463.7,353.0 465.4,355.5 467.9,355.5 470.0,352.1 471.7,350.4 473.4,353.8 475.1,352.1 476.4,363.9 477.6,353.8 479.3,331.8 481.0,333.5 482.2,350.4 483.5,331.8 484.7,329.3 486.1,342.0 486.9,358.9 488.6,374.1 490.3,379.2 492.0,387.6 493.2,394.4 494.5,385.9 496.2,389.3 497.9,385.9 499.6,394.4 501.3,397.7 503.0,401.1 505.5,404.5" fill="none" stroke="#F86E69" stroke-width="1.6" stroke-linejoin="round" stroke-linecap="round"/>
<polyline points="74.7,493.8 77.9,492.8 81.3,492.0 84.8,491.2 88.3,490.5 91.9,489.7 95.5,488.8 99.0,487.8 102.4,486.6 105.8,485.2 109.0,483.5 112.0,481.7 114.9,479.7 117.6,477.4 120.1,474.9 122.4,472.3 124.5,469.5 126.5,466.5 128.2,463.4 129.7,460.2 131.1,456.9 132.3,453.5 133.4,450.0 134.4,446.5 135.2,443.0 136.0,439.5 136.6,435.9 137.3,432.4 137.9,428.8 138.5,425.3 139.0,421.8 139.6,418.3 140.2,414.8 140.8,411.3 141.4,407.8 142.0,404.3 142.5,400.7 143.1,397.2 143.5,393.6 143.8,389.9 145.8,380.0 147.0,377.0 148.0,400.0 149.6,450.3 151.0,430.0 152.6,425.1 154.0,405.0 155.5,390.0 157.1,380.0 158.5,362.0 159.4,352.6 160.5,348.0 162.2,346.9 163.9,352.6 165.0,356.5 166.1,357.1 167.2,360.0 168.4,362.7 170.0,366.0 171.1,368.6 172.2,367.3 173.3,369.2 174.4,366.6 175.5,370.8 176.6,368.5 177.6,371.7 178.7,365.6 179.7,372.7 180.8,369.5 181.9,367.7 182.9,370.1 184.0,368.2 185.0,370.5 186.1,370.8 187.1,369.7 188.2,371.5 189.2,371.1 190.3,370.8 191.3,372.1 192.4,371.8 193.4,373.0 194.5,370.6 195.5,372.6 196.6,370.8 197.6,370.0 198.7,367.5 199.7,373.7 200.8,368.8 201.8,369.5 202.9,372.4 203.9,369.7 205.0,367.3 206.0,371.7 207.1,369.5 208.2,368.6 209.2,365.8 210.3,369.3 211.3,366.7 212.4,368.2 213.4,370.8 214.5,368.0 215.5,363.1 216.6,367.9 217.6,366.8 218.8,368.8 220.0,369.5 221.3,367.9 222.6,366.4 223.9,368.2 224.9,370.1 225.9,361.3 226.9,370.9 227.9,365.5 229.2,365.2 230.5,364.7 231.8,364.2 232.8,367.0 233.8,359.4 234.8,365.3 235.8,364.9 237.1,364.4 238.4,363.1 239.7,364.2 240.7,363.6 241.7,363.5 242.7,362.2 243.7,363.6 245.0,364.9 246.3,365.0 247.6,362.9 248.6,362.6 249.6,361.1 250.6,362.1 251.6,363.6 252.9,363.1 254.2,364.6 255.5,364.9 256.5,365.0 257.5,362.4 258.5,369.4 259.5,365.5 260.8,360.2 262.1,366.9 263.4,364.9 264.4,364.2 265.4,363.8 266.4,363.1 267.4,362.9 268.7,361.2 270.0,366.0 271.3,364.2 272.3,362.8 273.3,361.3 274.3,363.5 275.3,362.2 276.6,361.2 277.9,358.3 279.1,356.2 280.3,357.6 281.6,357.1 282.9,354.3 283.9,351.2 284.9,353.0 286.8,356.3 288.1,363.4 289.5,358.3 290.8,355.6 292.1,361.6 293.4,365.9 294.7,362.9 296.0,364.9 297.4,363.6 298.7,364.1 300.0,364.0 301.3,362.9 302.3,363.8 303.3,360.3 304.3,362.9 305.3,361.6 306.6,361.0 307.9,365.2 309.2,360.9 310.2,359.1 311.2,363.8 312.2,360.0 313.2,361.6 314.5,360.7 315.8,363.8 317.1,360.3 318.1,362.0 319.1,361.2 320.1,361.9 321.1,361.6 322.4,362.4 323.7,361.3 325.0,361.6 326.3,358.9 327.6,362.4 328.9,357.6 329.9,356.1 330.9,356.2 331.9,357.0 332.9,358.9 333.9,358.3 334.9,363.3 335.9,361.3 336.9,359.4 337.9,359.6 339.2,356.2 340.5,358.8 341.8,357.6 342.8,355.7 343.8,358.3 344.8,358.9 345.8,358.3 347.1,358.5 348.4,354.5 349.7,355.0 351.0,354.7 352.4,355.7 353.7,357.1 355.0,356.3 356.3,351.9 357.6,354.3 359.0,355.6 360.3,352.4 361.6,353.0 362.9,355.0 364.2,355.4 365.5,352.4 366.9,349.0 368.2,351.1 369.5,354.5 370.8,352.4 372.1,352.8 373.4,351.7 374.4,348.3 375.4,351.8 376.4,346.5 377.4,351.1 378.7,352.7 380.0,349.1 381.3,352.9 382.6,350.4 383.6,349.7 384.6,350.6 385.6,349.1 386.6,351.1 388.0,353.1 389.0,354.2 390.0,352.1 391.0,351.6 392.0,350.0 393.0,347.6 394.0,349.3 395.0,350.5 396.0,351.1 397.0,352.3 398.0,355.0 399.0,354.4 400.0,354.6 401.0,354.7 402.0,353.2 403.0,351.6 404.0,351.8 405.1,349.4 406.1,348.6 407.1,346.0 408.1,350.2 409.1,350.8 410.1,352.7 411.1,350.8 412.1,351.6 413.1,351.6 414.1,354.0 415.1,353.1 416.2,350.6 417.3,349.3 418.5,352.2 419.6,354.6 420.7,357.7 421.8,359.8 423.0,361.5 424.1,360.6 425.1,361.9 426.1,360.6 427.1,362.9 428.1,362.5 429.1,360.5 430.1,363.6 431.1,362.5 432.1,358.4 433.1,359.1 434.6,350.8 436.1,354.6 439.1,362.1 440.1,363.5 441.1,367.4 442.1,366.6 443.4,366.5 444.5,365.6 445.7,370.9 446.8,369.9 447.9,369.4 449.0,372.6 450.1,372.4 451.2,371.5 452.4,374.2 453.5,375.8 456.9,374.1 460.3,374.9 463.7,375.8 467.0,374.1 469.6,378.3 471.3,360.6 472.1,356.3 473.8,363.9 475.5,365.6 477.2,372.4 479.7,370.7 482.3,374.1 484.8,375.8 486.1,378.3 488.3,379.2" fill="none" stroke="#BDA008" stroke-width="1.7" stroke-linejoin="round" stroke-linecap="round"/>
<polyline points="74.6,487.1 77.3,486.4 80.1,485.7 83.0,484.8 85.8,483.7 88.6,482.5 91.2,481.1 93.7,479.5 96.0,477.7 98.2,475.8 100.2,473.7 102.0,471.4 103.7,469.0 105.2,466.5 106.5,463.9 107.7,461.2 108.8,458.5 109.8,455.7 110.7,452.8 111.6,450.0 112.3,447.1 113.0,444.2 113.7,441.3 114.3,438.4 114.9,435.6 115.4,432.7 115.9,429.8 116.4,426.9 116.9,424.0 117.4,421.2 117.8,418.3 118.2,415.3 118.6,412.4 119.0,409.4 119.5,406.5 119.9,403.5 120.4,400.6 120.9,397.6 121.6,394.8 122.3,392.1 123.3,391.3 124.4,402.6 125.5,396.0 126.7,403.7 127.8,392.0 128.9,375.1 130.5,365.0 131.7,358.2 132.5,370.0 133.0,395.0 133.6,432.0 135.0,425.0 137.0,400.0 139.1,380.0 140.8,344.7 141.9,339.0 143.6,346.9 147.0,335.1 149.2,340.2 150.9,352.6 152.6,353.7 153.8,355.7 154.9,357.1 157.1,362.7 158.2,361.4 159.4,366.1 160.5,365.6 161.6,365.0 162.8,364.5 163.9,362.7 165.0,359.5 166.1,361.6 167.2,357.3 168.4,360.4 170.3,361.6 171.3,359.3 172.4,363.6 173.4,362.2 174.5,360.6 175.5,360.3 176.6,360.6 177.6,361.4 178.7,355.3 179.7,357.7 180.8,358.3 181.9,354.6 182.9,358.9 184.0,357.1 185.0,359.0 186.1,357.6 187.1,354.8 188.2,361.3 189.2,359.0 190.3,360.7 191.3,361.6 192.4,361.9 193.4,363.6 194.5,357.9 195.5,365.2 196.6,362.9 197.6,361.3 198.7,362.9 199.7,364.2 200.8,357.3 201.8,360.3 202.9,361.4 203.9,358.3 205.0,359.5 206.0,359.8 207.1,358.3 208.2,358.6 209.2,357.3 210.3,359.1 211.3,358.2 212.4,357.6 213.4,357.9 214.5,356.5 215.5,360.3 216.6,357.1 217.6,358.3 218.8,358.0 220.0,358.3 221.1,357.5 222.1,357.9 223.2,362.8 224.2,358.6 225.3,358.9 226.3,358.7 227.4,358.0 228.4,358.8 229.5,358.2 230.5,357.6 231.5,359.6 232.5,355.0 233.5,359.5 234.5,358.9 235.8,358.7 237.1,362.1 238.4,361.6 239.8,360.6 241.1,364.2 242.4,364.2 243.7,363.6 245.0,359.5 246.3,361.6 247.3,366.8 248.3,358.0 249.3,360.9 250.3,359.6 251.6,365.0 252.9,357.6 254.2,361.6 255.5,359.6 256.8,363.6 257.8,369.1 258.8,366.8 259.8,368.1 260.8,366.8 262.1,369.3 263.4,369.5 264.4,373.8 265.4,368.7 266.4,370.2 267.4,374.7 268.7,376.4 270.0,377.4 271.3,381.3 272.6,380.0 274.0,381.2 275.3,382.6 276.6,380.9 277.9,380.0 279.1,381.2 280.3,380.0 281.6,381.5 282.9,379.3 284.2,379.3 285.5,380.0 286.9,380.0 288.2,378.7 289.5,380.9 290.8,380.0 292.1,382.2 293.4,385.3 294.8,385.5 296.1,387.9 297.4,385.2 298.7,385.3 300.0,384.8 301.3,383.9 302.3,382.9 303.3,384.8 304.3,382.6 305.3,381.3 306.6,381.7 307.9,382.5 309.2,382.6 310.5,383.9 311.8,380.0 313.1,380.7 314.5,381.3 315.8,384.2 317.1,382.6 318.4,381.1 319.7,382.6 321.0,385.9 322.4,385.3 323.7,381.9 325.0,380.0 327.6,387.9 329.6,374.7 330.6,372.8 331.6,373.4 332.6,372.7 333.6,377.4 335.3,376.1 336.6,379.1 337.9,378.7 339.2,380.8 340.5,380.0 341.9,382.5 343.2,381.3 344.5,382.6 345.8,380.0 347.1,381.1 348.4,382.6 349.8,382.1 351.1,381.3 352.4,373.4 353.7,374.7 355.0,373.0 356.3,376.1 357.6,376.7 358.9,374.7 360.2,374.8 361.6,378.7 364.2,372.1 365.5,371.1 366.8,370.8 368.1,370.3 369.5,373.4 370.8,374.2 372.1,374.7 373.4,374.9 374.7,376.1 376.0,374.9 377.4,378.7 378.7,379.8 380.0,377.4 381.3,375.6 382.6,374.7 384.0,380.7 385.3,381.3 386.6,383.2 388.0,383.2 389.0,383.6 390.0,386.9 391.0,384.7 394.0,368.1 397.0,378.6 398.0,377.5 399.0,377.5 400.0,381.7 401.0,381.3 402.0,377.4 403.0,377.1 404.0,377.9 405.1,380.0 406.1,384.7 407.1,387.4 408.1,379.1 409.1,381.7 410.1,382.7 411.1,381.7 412.1,383.2 415.1,374.1 416.1,377.4 417.1,378.7 418.1,380.2 419.1,383.5 420.1,377.9 421.1,383.2 422.1,384.6 423.1,382.0 424.1,384.7 425.0,388.7 427.2,395.3 429.4,387.3 430.8,385.1 432.3,387.3 433.7,393.8 435.2,388.0 436.6,393.8 438.1,394.5 439.5,393.8 441.0,391.6 442.5,401.1 443.9,398.2 445.0,399.0 446.1,396.7 446.8,405.5 447.9,404.5 449.0,407.6 450.8,409.8" fill="none" stroke="#06BC3A" stroke-width="1.7" stroke-linejoin="round" stroke-linecap="round"/>
<polyline points="74.5,486.6 77.5,485.9 80.7,485.0 83.8,483.9 86.8,482.6 89.8,481.0 92.5,479.3 95.0,477.3 97.3,475.1 99.4,472.7 101.2,470.2 102.8,467.4 104.3,464.6 105.5,461.6 106.6,458.6 107.6,455.5 108.5,452.3 109.2,449.1 109.9,445.9 110.6,442.7 111.3,439.5 111.9,436.3 112.5,433.1 113.1,430.0 113.7,426.8 114.3,423.7 114.9,420.6 115.4,417.4 116.0,414.3 116.5,411.1 117.0,408.0 117.5,404.7 117.9,401.5 118.3,398.2 118.7,395.0 119.0,391.7 119.4,388.4 119.9,385.2 120.5,382.1 121.3,379.1 122.5,373.2 123.6,374.9 125.3,379.2 126.9,375.8 128.6,370.7 130.3,374.1 131.5,369.0 132.2,380.0 132.8,420.0 133.3,441.0 134.0,425.0 135.5,398.0 137.5,378.0 139.1,365.0 141.3,358.2 143.6,353.7 145.3,361.6 145.8,366.1 148.1,358.2 150.3,365.0 151.4,369.3 152.6,367.2 153.8,369.1 154.9,369.5 156.0,368.6 157.1,370.6 158.2,370.9 159.4,371.7 160.5,370.6 161.6,368.3 162.8,367.7 163.9,372.9 165.0,377.6 166.1,377.4 167.2,376.2 168.4,381.9 170.3,373.4 171.6,374.8 172.9,374.7 174.2,370.3 175.5,373.4 176.8,375.0 178.2,374.7 179.5,373.8 180.8,372.1 183.4,378.7 185.4,384.0 187.4,374.7 188.7,374.7 190.0,373.4 191.3,371.9 192.6,372.1 193.9,365.4 195.3,369.5 196.6,369.1 197.9,367.7 199.2,368.2 200.5,371.1 201.8,370.8 203.2,368.5 204.5,369.5 205.8,372.8 207.1,372.3 208.4,374.7 209.8,375.9 211.1,380.0 213.7,373.4 215.0,374.7 216.3,369.9 217.6,368.2 218.6,368.5 219.6,370.1 220.6,372.5 221.6,369.5 222.8,367.2 223.9,366.8 225.2,366.6 226.6,369.5 227.9,372.7 229.2,370.8 230.5,364.5 231.8,368.2 233.2,370.0 234.5,366.8 235.8,368.0 237.1,366.5 238.4,365.5 239.4,366.7 240.4,365.2 241.4,366.5 242.4,368.2 243.7,369.3 245.0,368.2 246.3,366.2 247.6,369.5 248.6,375.2 249.6,368.4 250.6,374.4 251.6,370.8 252.9,370.6 254.2,366.8 255.5,366.4 256.8,365.5 258.1,368.8 259.5,366.2 260.8,367.0 262.1,366.8 263.4,367.2 264.7,365.5 266.0,366.3 267.4,366.8 268.7,366.3 270.0,366.2 271.3,368.9 272.6,368.2 274.0,368.6 275.3,369.5 276.5,367.0 277.6,371.0 278.8,368.0 280.0,368.2 281.4,366.3 282.9,369.5 284.2,370.3 285.5,363.5 286.8,364.2 288.1,365.4 289.5,368.2 290.8,369.5 292.1,366.8 293.4,359.5 294.7,362.9 296.0,367.6 297.4,356.3 299.3,362.9 300.3,357.1 301.3,361.6 303.9,355.0 305.9,360.3 306.9,366.1 307.9,357.6 309.2,351.2 310.5,356.3 311.9,358.6 313.2,357.6 314.5,360.3 316.4,364.2 318.4,349.7 319.7,356.3 321.0,355.9 322.4,362.9 323.7,360.6 325.0,358.9 327.0,352.4 328.9,361.6 330.2,358.7 331.6,357.6 332.8,361.0 333.9,361.6 334.9,360.3 335.9,366.2 336.9,362.2 337.9,365.5 339.2,370.7 340.5,365.0 341.8,366.8 342.8,367.5 343.8,367.4 344.8,369.4 345.8,368.2 347.1,363.9 348.4,370.4 349.7,366.8 351.7,376.1 353.7,360.3 355.0,356.8 356.3,358.9 357.6,362.1 358.9,361.6 360.2,362.7 361.6,362.9 362.9,359.2 364.2,361.6 365.5,362.8 366.8,362.9 368.1,361.9 369.5,364.2 370.8,363.7 372.1,362.9 373.4,366.7 374.7,364.2 376.0,366.6 377.4,362.9 378.7,367.1 380.0,364.2 381.3,362.1 382.6,362.9 385.3,355.7 387.3,365.1 389.5,374.1 391.8,380.2 394.0,374.1 395.0,374.9 396.0,376.1 397.0,377.1 398.0,378.6 399.0,381.5 400.0,380.2 401.0,380.4 402.0,375.4 403.0,377.1 404.1,382.0 405.3,378.8 406.5,376.5 407.6,378.6 408.7,378.0 409.9,380.0 411.0,377.5 412.1,380.2 413.1,379.1 414.1,376.8 415.1,375.6 416.1,379.3 417.1,375.0 418.1,374.1 419.2,370.4 420.4,376.3 421.5,370.4 422.6,372.6 423.6,375.6 424.6,375.9 425.6,374.1 426.6,374.4 427.6,370.3 428.6,369.6 431.6,377.1 432.6,379.8 433.6,374.4 434.6,374.1 435.6,377.4 436.6,379.0 437.6,378.6 438.8,378.9 440.0,377.5 441.1,378.5 442.3,373.0 443.4,374.1 445.9,365.6 447.6,375.8 449.3,382.5 451.0,380.8 451.8,391.0" fill="none" stroke="#0CBFC8" stroke-width="1.7" stroke-linejoin="round" stroke-linecap="round"/>
<polyline points="74.6,488.3 77.4,487.6 80.4,486.9 83.5,486.0 86.5,484.9 89.4,483.6 92.1,482.1 94.8,480.4 97.2,478.5 99.5,476.5 101.5,474.2 103.4,471.8 105.1,469.3 106.7,466.6 108.0,463.9 109.3,461.0 110.4,458.1 111.4,455.2 112.3,452.2 113.2,449.1 113.9,446.1 114.7,443.1 115.3,440.0 116.0,437.0 116.6,433.9 117.2,430.9 117.7,427.9 118.3,424.9 118.8,421.8 119.3,418.8 119.7,415.7 120.2,412.6 120.6,409.5 121.1,406.4 121.5,403.3 121.9,400.2 122.4,397.1 122.9,394.0 123.5,391.0 124.3,388.1 126.7,378.0 128.9,369.5 131.2,371.7 133.4,372.9 135.7,370.6 136.8,375.0 137.9,397.0 139.0,382.0 142.4,363.8 144.6,365.0 148.1,357.1 151.5,363.8 152.6,364.6 153.8,367.6 154.9,368.3 156.0,367.1 157.2,368.3 158.3,366.5 159.4,368.3 160.5,368.5 161.6,366.1 162.7,366.1 163.8,364.5 165.0,365.6 166.1,363.8 167.2,361.9 168.4,364.2 169.5,360.0 172.9,349.7 174.2,349.3 175.5,352.8 176.8,348.4 179.5,356.3 180.8,356.3 182.1,360.3 183.1,362.3 184.1,360.1 185.1,363.4 186.1,362.9 187.4,361.4 188.7,357.3 190.0,355.0 191.3,357.0 192.6,356.3 193.9,353.8 195.3,353.7 197.9,361.6 199.2,363.3 200.5,360.3 201.5,357.1 202.5,363.2 203.5,357.1 204.5,357.6 205.8,358.0 207.1,356.4 208.4,360.3 209.4,360.7 210.4,364.0 211.4,358.5 212.4,358.9 213.4,356.9 214.5,358.2 215.5,354.6 216.6,361.7 217.6,357.6 218.6,354.6 219.6,360.0 220.6,360.4 221.6,360.3 222.8,359.1 224.1,355.2 225.3,358.9 226.6,361.1 227.9,358.8 229.2,357.6 230.5,352.0 231.8,353.0 233.2,357.6 234.5,358.3 235.8,357.3 237.1,359.2 238.4,360.3 239.4,358.8 240.4,367.5 241.4,359.2 242.4,362.2 243.7,359.0 245.0,362.6 246.3,358.3 247.3,355.6 248.3,360.5 249.3,356.0 250.3,357.6 251.6,353.8 252.9,358.3 254.2,356.3 255.5,356.0 256.8,359.6 258.1,365.8 259.5,361.6 260.8,362.1 262.1,362.9 263.4,361.0 264.7,364.2 266.0,363.9 267.4,362.9 268.7,362.3 270.0,364.9 271.3,361.3 272.6,365.5 274.0,368.7 275.3,369.5 276.6,367.6 277.9,372.1 279.1,368.5 280.3,368.2 281.6,370.4 282.9,369.5 284.2,366.0 285.5,364.2 286.9,362.6 288.2,365.5 289.5,370.3 290.8,369.5 292.1,367.3 293.4,368.2 294.8,373.6 296.1,366.8 297.4,360.9 298.7,368.2 300.0,369.3 301.3,365.5 302.6,361.8 303.9,364.2 305.2,362.9 306.6,362.9 307.9,364.1 309.2,365.5 310.5,367.3 311.8,366.8 313.1,364.5 314.5,369.5 316.4,377.4 318.4,370.8 319.8,372.5 321.1,369.5 322.4,369.7 323.7,368.2 325.0,368.6 326.3,369.5 327.6,369.1 328.9,370.8 330.2,369.9 331.6,368.2 332.8,364.8 333.9,366.8 334.9,369.5 335.9,369.0 336.9,369.3 337.9,369.5 339.2,367.4 340.5,361.3 341.8,365.5 342.8,368.3 343.8,362.7 344.8,368.8 345.8,364.2 347.1,359.1 348.4,369.8 349.7,365.5 350.7,366.3 351.7,363.1 352.7,366.5 353.7,364.2 355.0,367.4 356.3,359.9 357.6,362.9 358.6,367.6 359.6,360.4 360.6,362.8 361.6,364.2 362.9,361.6 364.2,366.3 365.5,362.9 366.5,365.9 367.5,361.6 368.5,364.8 369.5,363.6 370.8,361.5 372.1,364.0 373.4,362.9 374.4,365.5 375.4,357.0 376.4,365.1 377.4,361.6 378.7,354.5 380.0,360.3 381.3,363.5 382.6,361.6 384.0,365.8 385.3,362.9 386.6,362.5 387.9,364.2 388.9,364.4 390.0,365.5 391.0,368.4 392.0,360.8 393.0,364.0 394.0,363.6 395.1,360.8 396.2,366.8 397.4,365.0 398.5,365.1 399.6,363.2 400.8,364.5 401.9,361.5 403.0,363.6 404.1,362.9 405.3,360.5 406.5,362.2 407.6,361.4 408.7,360.0 409.9,358.2 411.0,364.1 412.1,360.6 413.2,361.1 414.4,364.2 415.5,358.4 416.6,362.1 417.7,364.8 418.9,362.6 420.0,368.0 421.1,365.1 422.2,365.4 423.4,368.4 424.5,368.5 425.6,368.1 426.6,369.9 427.6,372.0 428.6,371.1 430.1,374.1 431.2,373.9 432.4,372.3 433.5,373.4 434.6,372.6 435.6,375.5 436.6,376.2 437.6,377.1 438.6,380.0 439.6,377.3 440.6,380.2 441.8,382.2 442.9,384.7 444.2,382.1 445.5,381.4 446.8,379.2 447.9,377.7 449.0,381.2 450.1,377.5 451.2,374.7 452.4,372.5 453.5,374.1 454.6,379.1 455.8,376.8 456.9,379.2 458.0,383.5 459.2,384.1 460.3,385.9 461.4,383.6 462.6,390.5 463.7,391.0 466.2,377.5 467.4,380.7 468.7,382.5 470.0,384.0 471.3,387.6 472.6,386.7 473.8,389.3 474.2,391.8 475.9,380.8 477.6,387.6 479.3,386.8 480.6,393.4 481.8,389.3" fill="none" stroke="#4A98F6" stroke-width="1.7" stroke-linejoin="round" stroke-linecap="round"/>
<polyline points="74.5,491.1 77.5,490.5 80.5,489.8 83.5,489.0 86.5,488.1 89.4,487.0 92.2,485.8 94.9,484.3 97.5,482.7 100.0,481.0 102.4,479.1 104.7,477.0 106.9,474.8 108.9,472.4 110.8,470.0 112.5,467.4 114.1,464.8 115.6,462.1 117.0,459.3 118.2,456.4 119.3,453.6 120.3,450.6 121.2,447.7 122.0,444.7 122.7,441.7 123.4,438.7 124.0,435.7 124.5,432.7 125.0,429.7 125.5,426.6 125.9,423.6 126.3,420.5 126.7,417.4 127.2,414.4 127.6,411.3 128.0,408.2 128.4,405.1 128.9,402.0 129.3,399.0 129.8,396.0 131.2,391.3 132.9,389.0 134.6,394.7 136.0,385.0 137.9,372.9 140.2,375.1 142.5,380.0 145.0,375.0 147.0,372.0 147.6,390.0 148.1,408.2 148.8,390.0 149.5,375.1 151.5,371.7 152.6,367.7 153.7,369.5 154.3,390.0 154.9,405.0 156.0,391.0 157.5,370.0 159.4,354.8 160.5,355.6 161.6,351.4 162.8,351.0 163.9,357.1 165.0,359.5 166.1,360.4 168.0,366.1 169.0,393.0 170.3,369.5 172.9,345.8 175.5,362.9 176.8,360.0 178.2,356.3 179.5,352.3 180.8,351.1 183.4,362.9 184.8,367.2 186.1,365.5 187.4,362.0 188.7,361.6 191.3,370.8 192.7,370.8 194.0,364.2 195.3,364.1 196.6,362.9 197.9,364.7 199.2,365.5 200.5,372.0 201.8,368.2 203.2,364.3 204.5,365.5 205.5,365.6 206.6,367.8 207.6,365.2 208.7,367.2 209.7,366.8 210.8,366.2 211.8,365.6 212.9,369.0 213.9,364.3 215.0,365.5 216.3,368.8 217.6,368.5 218.9,368.2 220.2,372.6 221.6,374.7 222.8,376.2 223.9,376.7 225.2,373.4 226.6,373.4 227.9,371.6 229.2,370.8 230.5,367.5 231.8,368.2 233.2,367.6 234.5,369.5 235.8,362.4 237.1,366.8 239.7,374.7 241.1,373.8 242.4,372.1 243.7,372.1 245.0,373.4 246.3,369.9 247.6,372.1 248.9,374.7 250.3,374.1 251.6,379.5 252.9,374.7 254.2,373.3 255.5,376.1 256.9,375.9 258.2,374.7 259.5,377.6 260.8,379.3 262.1,377.4 263.4,373.4 264.8,371.3 266.1,370.8 267.4,369.4 268.7,368.2 270.0,367.9 271.3,369.5 272.6,366.0 273.9,368.2 275.2,370.6 276.6,370.8 277.8,373.0 279.1,371.4 280.3,373.4 281.6,371.3 282.9,374.7 284.2,376.8 285.5,373.4 288.2,385.3 289.5,376.1 290.8,372.7 292.1,373.4 293.4,372.8 294.7,370.8 296.0,369.1 297.4,369.5 298.7,369.8 300.0,366.8 301.3,368.9 302.6,372.1 304.0,372.1 305.3,377.4 307.9,369.5 309.2,370.6 310.5,365.5 311.9,364.8 313.2,364.2 314.5,365.4 315.8,365.5 317.1,362.8 318.4,368.2 319.8,368.7 321.1,366.8 322.4,363.1 323.7,365.5 325.0,361.2 326.3,364.2 327.6,366.8 328.9,365.5 330.2,361.9 331.6,362.9 332.8,364.8 333.9,364.2 334.9,362.8 335.9,365.8 336.9,361.0 337.9,362.9 339.0,364.2 340.1,358.5 341.2,361.6 342.5,382.6 343.8,364.2 344.9,368.0 346.0,362.3 347.1,362.9 348.4,362.9 349.7,360.3 351.0,360.6 352.4,361.6 353.7,363.4 355.0,365.7 356.3,362.9 357.3,361.5 358.3,364.3 359.3,363.5 360.3,364.2 361.6,363.3 362.9,362.8 364.2,365.5 365.2,366.6 366.2,365.8 367.2,362.1 368.2,364.2 369.5,365.5 370.8,362.7 372.1,365.5 373.1,367.5 374.1,364.7 375.1,361.2 376.1,364.2 377.4,368.5 378.7,360.9 380.0,365.5 381.3,368.6 382.6,367.9 383.9,366.8 384.9,366.0 385.9,368.9 386.9,361.7 387.9,365.5 388.9,369.8 390.0,364.2 391.0,360.2 392.0,366.8 393.0,363.3 394.0,365.1 395.1,368.4 396.2,363.9 397.4,366.5 398.5,366.6 399.6,368.6 400.8,364.7 401.9,367.1 403.0,365.9 404.1,368.7 405.3,366.4 406.5,364.5 407.6,363.6 408.7,361.2 409.9,370.6 411.0,368.9 412.1,368.1 413.2,369.6 414.4,366.3 415.5,368.0 416.6,369.6 417.7,367.4 418.9,368.7 420.0,364.4 421.1,365.1 422.2,364.5 423.4,366.4 424.5,361.7 425.6,363.6 426.7,365.5 427.9,361.3 429.0,368.0 430.1,366.6 431.2,367.6 432.4,366.1 433.5,365.8 434.6,365.1 436.9,359.1 439.1,368.1 440.1,374.0 441.1,370.5 442.1,371.1 443.3,369.8 444.5,373.9 445.6,372.5 446.8,374.1 447.9,373.1 449.0,375.1 450.1,374.1 451.4,371.6 452.7,369.0 454.4,365.6" fill="none" stroke="#F752E2" stroke-width="1.7" stroke-linejoin="round" stroke-linecap="round"/>
<line x1="53.6" y1="382.9" x2="526.2" y2="382.9" stroke="#FF0000" stroke-width="3.2" stroke-dasharray="11.35 11.8"/>
<line x1="91.5" y1="471.0" x2="113.1" y2="406.5" stroke="#7FAEE6" stroke-width="0.8"/>
<polygon points="114.3,403.0 114.8,408.0 110.8,406.7" fill="#2F6EBA"/>
<line x1="147.9" y1="335.9" x2="156.2" y2="350.7" stroke="#7FAEE6" stroke-width="0.8"/>
<polygon points="158.0,353.9 153.9,350.9 157.6,348.9" fill="#2F6EBA"/>
<line x1="231.1" y1="397.6" x2="390.9" y2="397.6" stroke="#7FAEE6" stroke-width="0.8"/>
<polygon points="394.6,397.6 390.0,399.7 390.0,395.5" fill="#2F6EBA"/>
<polygon points="227.4,397.6 232.0,395.5 232.0,399.7" fill="#2F6EBA"/>
<text transform="translate(94.3,431.2) rotate(-70.6)" text-anchor="middle" font-family="'Liberation Serif', 'Times New Roman', serif" font-size="12.45" fill="#000" stroke="#000" stroke-width="0.1">1) Loading</text>
<text transform="translate(162.9,344.0) rotate(57.3)" text-anchor="middle" font-family="'Liberation Serif', 'Times New Roman', serif" font-size="9.8" fill="#000" stroke="#000" stroke-width="0.1">2) Initiation</text>
<text x="291.3" y="412.9" font-family="'Liberation Serif', 'Times New Roman', serif" font-size="13.1" fill="#000" stroke="#000" stroke-width="0.1">3) Peeling</text>
</svg>
</body></html>
